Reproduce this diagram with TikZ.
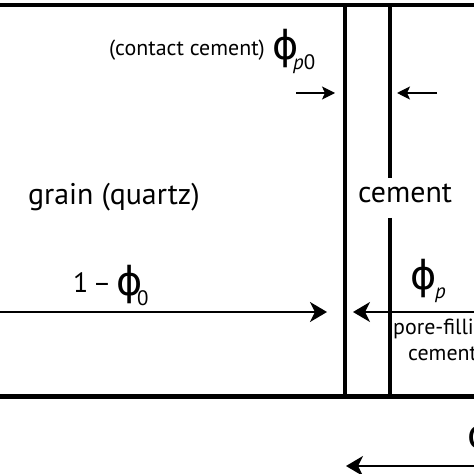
\documentclass[tikz,border=0pt]{standalone}
\usepackage{fontspec}
\setmainfont{PT Sans}
\newfontfamily\phifont{DejaVu Sans}
\usetikzlibrary{arrows.meta}
\begin{document}
\begin{tikzpicture}[x=1bp,y=-1bp,
  frame/.style={line width=4.5bp},
  wall/.style={line width=4bp},
  dimarrow/.style={line width=1.7bp,-{Stealth[length=17bp,width=20bp,inset=5bp]}},
  smallarrow/.style={line width=1.3bp,-{Stealth[length=13bp,width=13bp,inset=3bp]}},
  lbl/.style={inner sep=0pt, anchor=base west},
  big/.style={font=\fontsize{30}{32}\selectfont},
  mid/.style={font=\fontsize{22}{24}\selectfont},
  phisym/.style={inner sep=0pt, anchor=base west, font=\phifont\fontsize{40}{40}\selectfont},
  sub/.style={inner sep=0pt, anchor=base west, font=\fontsize{21}{21}\selectfont},
]
\useasboundingbox (0,0) rectangle (474,474);
\fill[white] (0,0) rectangle (474,474);
% frame coordinates
\coordinate (tl) at (0,5);
\coordinate (tr) at (474,5);
\coordinate (bl) at (0,396.5);
\coordinate (br) at (474,396.5);
\coordinate (v1t) at (345,5);
\coordinate (v1b) at (345,396.5);
\coordinate (v2t) at (390,5);
\coordinate (v2b) at (390,396.5);
\coordinate (v2g1) at (390,178);
\coordinate (v2g2) at (390,218);
\draw[frame] (tl) -- (tr);
\draw[frame] (bl) -- (br);
\draw[wall] (v1t) -- (v1b);
\draw[wall] (v2t) -- (v2g1);
\draw[wall] (v2g2) -- (v2b);
% labels
\node[lbl,mid] (cc) at (109,56) {(contact cement)};
\node[phisym] (phi1) at (272,60) {ϕ};
\node[sub] (sub1) at (293,70) {\itshape p\upshape 0};
\node[lbl,big] (grain) at (28,205) {grain (quartz)};
\node[lbl,big] (cem) at (358,203) {cement};
\node[lbl,font=\fontsize{28}{30}\selectfont] (one) at (73,292) {1};
\node[inner sep=0pt,anchor=base,font=\fontsize{28}{30}\selectfont] (dash) at (102,292) {–};
\node[phisym] (phi2) at (116,295) {ϕ};
\node[sub] (sub2) at (137,305) {0};
\node[phisym] (phi3) at (410,289) {ϕ};
\node[sub] (sub3) at (435,298) {\itshape p};
\node[lbl,mid] (pf) at (393,334) {pore-filling};
\node[lbl,mid] (pf2) at (408,360) {cement};
\node[phisym] (phi4) at (467,448) {ϕ};
% arrows
\coordinate (a1s) at (0,312);
\coordinate (a1e) at (327,312);
\coordinate (a2s) at (474,312);
\coordinate (a2e) at (353,312);
\coordinate (a3s) at (296,93);
\coordinate (a3e) at (335,93);
\coordinate (a4s) at (437,93);
\coordinate (a4e) at (397,93);
\coordinate (a5s) at (474,466);
\coordinate (a5e) at (346,466);
\draw[dimarrow] (a1s) -- (a1e);
\draw[dimarrow] (a2s) -- (a2e);
\draw[dimarrow] (a5s) -- (a5e);
\draw[smallarrow] (a3s) -- (a3e);
\draw[smallarrow] (a4s) -- (a4e);
\end{tikzpicture}
\end{document}
